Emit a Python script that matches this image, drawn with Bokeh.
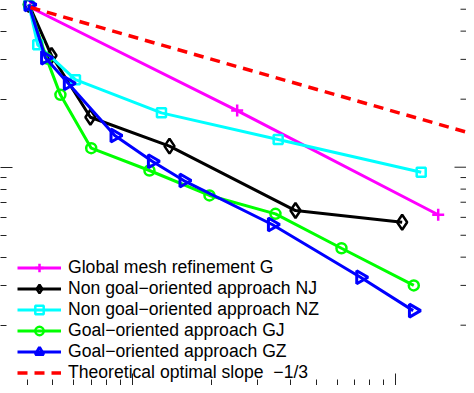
import math
from bokeh.plotting import figure
from bokeh.models import (FixedTicker, Range1d, Legend, LegendItem,
                          CustomJSTickFormatter, ColumnDataSource, Ray)
from bokeh.embed import file_html
from bokeh.resources import INLINE

# ---- data (log-log) ----
g_dof = [411, 2505, 14530]
g_err = [0.0509, 0.0178, 0.00616]
nj_dof = [405, 494, 694, 1386, 4171, 10603]
nj_err = [0.0525, 0.0312, 0.01664, 0.01239, 0.00643, 0.00571]
nz_dof = [405, 438, 609, 1292, 3585, 12523]
nz_err = [0.0525, 0.0348, 0.0244, 0.0174, 0.01326, 0.0095]
gj_dof = [405, 473, 534, 699, 1163, 1966, 3501, 6236, 11737]
gj_err = [0.0525, 0.0303, 0.0209, 0.01214, 0.00967, 0.0075, 0.00622, 0.00438, 0.0030]
gz_dof = [405, 468, 571, 859, 1191, 1570, 3402, 7365, 11675]
gz_err = [0.0525, 0.0305, 0.02353, 0.01381, 0.01063, 0.00873, 0.00558, 0.00326, 0.00232]
slope_dof = [411, 25000]
slope_err = [0.0509, 0.01295]

labels = ["Global mesh refinement G",
          "Non goal\u2212oriented approach NJ",
          "Non goal\u2212oriented approach NZ",
          "Goal\u2212oriented approach GJ",
          "Goal\u2212oriented approach GZ",
          "Theoretical optimal slope  \u22121/3"]

x_major = [1000, 10000]
x_minor = [300, 400, 500, 600, 700, 800, 900,
           2000, 3000, 4000, 5000, 6000, 7000, 8000, 9000]
y_major = [0.01]
y_minor = [0.002, 0.003, 0.004, 0.005, 0.006, 0.007, 0.008, 0.009,
           0.02, 0.03, 0.04, 0.05]

X0, X1 = 316.2, 18610.0
Y0, Y1 = 0.001082, 0.05465

p = figure(width=466, height=385, x_axis_type="log", y_axis_type="log",
           x_range=Range1d(X0, X1), y_range=Range1d(Y0, Y1),
           toolbar_location=None, output_backend="svg", min_border=0)
p.outline_line_color = None
p.xgrid.visible = False
p.ygrid.visible = False
p.background_fill_color = "white"

blank = CustomJSTickFormatter(code="return ''")
TICK_COLOR = "#222222"


def style_axis(ax, major, minor):
    ax.ticker = FixedTicker(ticks=major, minor_ticks=minor)
    ax.formatter = blank
    ax.axis_line_color = None
    ax.major_tick_in = 12
    ax.major_tick_out = 0
    ax.minor_tick_in = 6
    ax.minor_tick_out = 0
    ax.major_tick_line_color = TICK_COLOR
    ax.minor_tick_line_color = TICK_COLOR
    ax.major_tick_line_width = 1
    ax.minor_tick_line_width = 1
    ax.major_label_text_font_size = "1px"
    ax.major_label_text_alpha = 0
    ax.major_label_standoff = 0


style_axis(p.xaxis[0], x_major, x_minor)
style_axis(p.yaxis[0], y_major, y_minor)

# right-hand tick marks (mirror of the left axis), pointing into the plot
right_src = ColumnDataSource(dict(
    x=[X1] * (len(y_major) + len(y_minor)),
    y=y_major + y_minor,
    length=[12] * len(y_major) + [6] * len(y_minor)))
p.add_glyph(right_src, Ray(x="x", y="y", length="length", length_units="screen",
                           angle=math.pi, line_color=TICK_COLOR, line_width=1))

LW = 3
l1 = p.line(g_dof, g_err, line_color="#FF00FF", line_width=LW)
m1 = p.scatter(g_dof, g_err, marker="cross", size=12, line_color="#FF00FF", line_width=2.5)
l2 = p.line(nj_dof, nj_err, line_color="black", line_width=LW)
m2 = p.scatter(nj_dof, nj_err, marker="diamond", size=15, line_color="black",
               fill_color=None, line_width=2.5)
l3 = p.line(nz_dof, nz_err, line_color="#00FFFF", line_width=LW)
m3 = p.scatter(nz_dof, nz_err, marker="square", size=9, line_color="#00FFFF",
               fill_color=None, line_width=2.5)
l4 = p.line(gj_dof, gj_err, line_color="#00FF00", line_width=LW)
m4 = p.scatter(gj_dof, gj_err, marker="circle", size=10, line_color="#00FF00",
               fill_color=None, line_width=2.5)
l5 = p.line(gz_dof, gz_err, line_color="#0000FF", line_width=LW)
m5 = p.scatter(gz_dof, gz_err, marker="triangle", size=13, angle=-math.pi / 2,
               line_color="#0000FF", fill_color=None, line_width=3)
l6 = p.line(slope_dof, slope_err, line_color="#FF0000", line_width=3.5, line_dash="10 7")

items = [LegendItem(label=labels[0], renderers=[l1, m1]),
         LegendItem(label=labels[1], renderers=[l2, m2]),
         LegendItem(label=labels[2], renderers=[l3, m3]),
         LegendItem(label=labels[3], renderers=[l4, m4]),
         LegendItem(label=labels[4], renderers=[l5, m5]),
         LegendItem(label=labels[5], renderers=[l6])]
legend = Legend(items=items, location=(17, 1.6))
legend.background_fill_alpha = 0
legend.border_line_color = None
legend.padding = 0
legend.margin = 0
legend.spacing = 0
legend.label_height = 21
legend.glyph_height = 21
legend.glyph_width = 44
legend.label_standoff = 7
legend.label_text_font = "Liberation Sans"
legend.label_text_font_size = "17.6px"
legend.label_text_color = "black"
p.add_layout(legend)

open("out.html", "w").write(file_html(p, INLINE))
